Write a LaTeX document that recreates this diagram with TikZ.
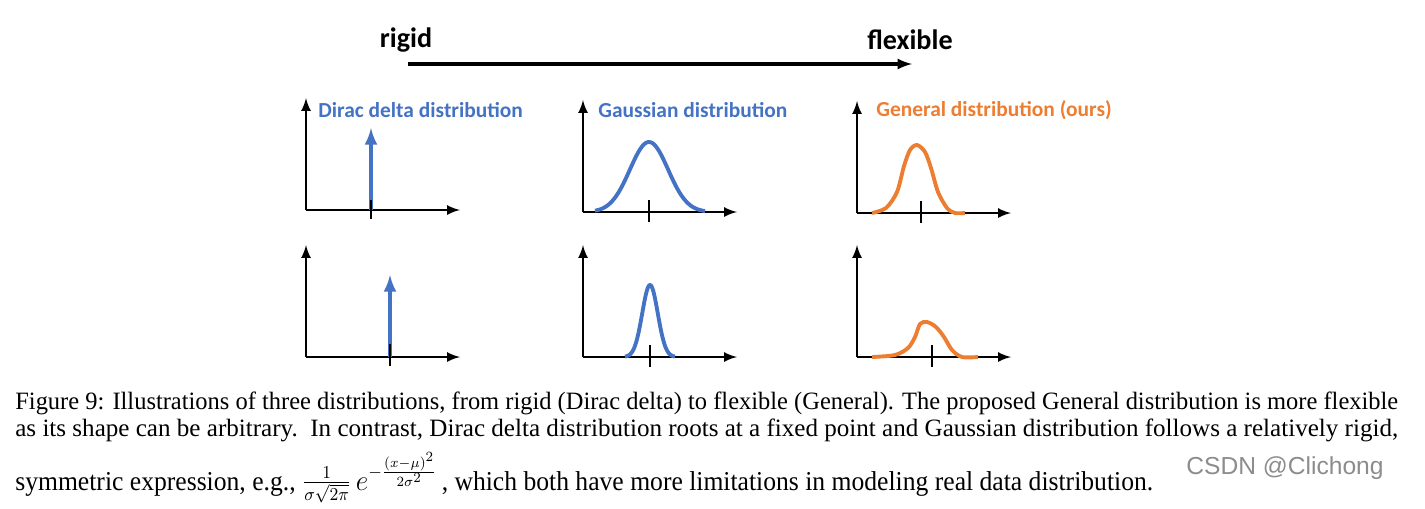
\documentclass[tikz,border=0pt]{standalone}
\usepackage{fontspec}
\setmainfont{Liberation Serif}
\newfontfamily\calib{Carlito}
\newfontfamily\wmark{Liberation Sans}
\usetikzlibrary{arrows, positioning}
\definecolor{diracblue}{RGB}{68,114,196}
\definecolor{genorange}{RGB}{237,125,49}
\tikzset{
  axis/.style={-latex, line width=1.5pt, black},
  curve/.style={line width=2.2pt, line join=round},
  title/.style={font=\calib\bfseries\fontsize{12.2}{14}\selectfont, anchor=west, inner sep=0pt},
  capline/.style={anchor=west, inner sep=0pt, font=\fontsize{13.5}{15}\selectfont}
}
\newcommand{\panel}[3]{% name, x, y of origin
  \coordinate (#1) at (#2,#3);
  \draw[axis] (#1) -- ++(0,-112);
  \draw[axis] (#1) -- ++(154,0);
}
\begin{document}
\begin{tikzpicture}[x=0.02cm, y=-0.02cm]
  \useasboundingbox (0,0) rectangle (1425,508);
  \clip (0,0) rectangle (1425,508);
  % rigid -> flexible
  \node[font=\calib\bfseries\fontsize{16}{18}\selectfont] (rigid) at (406,40) {rigid};
  \node[font=\calib\bfseries\fontsize{16}{18}\selectfont] (flexible) at (910,40) {flexible};
  \coordinate (rl) at (408,64);
  \coordinate (fl) at (912,64);
  \draw[-latex, line width=1.8pt] (rl) -- (fl);
  % axes
  \panel{dt}{306}{210}
  \panel{gt}{583}{212}
  \panel{et}{857}{213}
  \panel{db}{306}{357}
  \panel{gb}{583}{357}
  \panel{eb}{857}{357}
  % titles
  \node[title, text=diracblue] (tdirac) at (318,110) {Dirac delta distribution};
  \node[title, text=diracblue] (tgauss) at (598,110) {Gaussian distribution};
  \node[title, text=genorange] (tgen) at (876,110) {General distribution (ours)};
  % dirac
  \draw[diracblue, -latex, line width=2.2pt] (371,210) -- (371,128);
  \draw[line width=1.3pt] (371,200) -- (371,219);
  \draw[diracblue, -latex, line width=2.2pt] (390,357) -- (390,275);
  \draw[line width=1.3pt] (390,344) -- (390,366);
  % gaussian
  \draw[diracblue, curve] plot[domain=595:705, samples=80] (\x,{212-70*exp(-((\x-649)/27)^2)});
  \draw[line width=1.3pt] (649,200) -- (649,222);
  \draw[diracblue, curve] plot[domain=625:675, samples=80] (\x,{357-72*exp(-((\x-650)/11)^2)});
  \draw[line width=1.3pt] (650,345) -- (650,367);
  % general
  \draw[genorange, curve] plot[smooth, tension=0.5] coordinates {(872,213) (886,208) (897,192) (904,166) (910,150) (917,145) (925,152) (931,168) (938,192) (947,208) (955,213) (965,213)};
  \draw[line width=1.3pt] (921,201) -- (921,223);
  \draw[genorange, curve] plot[smooth, tension=0.5] coordinates {(872,357) (895,355) (908,348) (915,337) (920,324) (927,322) (936,327) (944,337) (952,350) (962,357) (978,357)};
  \draw[line width=1.3pt] (932,345) -- (932,367);
  % caption
  \node[capline] (l1) at (15,403) {\resizebox{27.66cm}{10pt}{Figure 9: Illustrations of three distributions, from rigid (Dirac delta) to flexible (General). The proposed General distribution is more flexible}};
  \node[capline] (l2) at (15,430) {\resizebox{27.66cm}{10pt}{as its shape can be arbitrary.\ \ In contrast, Dirac delta distribution roots at a fixed point and Gaussian distribution follows a relatively rigid,}};
  \node[capline, anchor=base west] (l3) at (15,490) {\scalebox{1.08}[1.15]{symmetric expression, e.g., $\frac{1}{\sigma\sqrt{2\pi}}\,e^{-\frac{(x-\mu)^2}{2\sigma^2}}$\,, which both have more limitations in modeling real data distribution.}};
  \node[font=\wmark\fontsize{14}{16}\selectfont, text=black!45] (wm) at (1285,468) {CSDN @Clichong};
\end{tikzpicture}
\end{document}
